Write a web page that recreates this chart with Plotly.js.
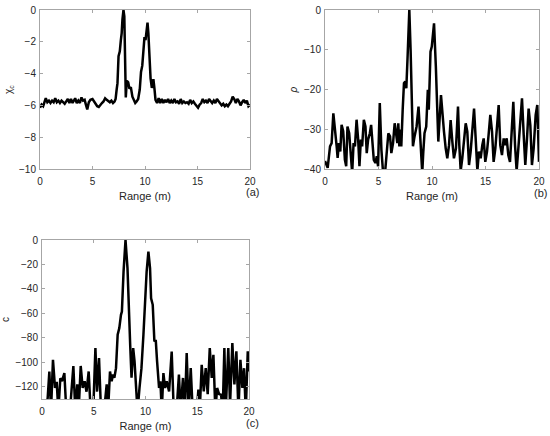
<!DOCTYPE html>
<html>
<head>
<meta charset="utf-8">
<script src="https://cdn.plot.ly/plotly-3.0.1.min.js"></script>
<style>html,body{margin:0;padding:0;background:#fff;}#chart{width:550px;height:436px;}</style>
</head>
<body>
<div id="chart"></div>
<script>
// Panel (a): chi_c vs range
var xA = [0,0.15,0.3,0.45,0.55,0.7,0.85,1.0,1.15,1.3,1.45,1.6,1.75,1.9,2.05,2.2,2.35,2.5,2.65,2.8,2.95,3.1,3.25,3.35,3.5,3.65,3.8,3.95,4.1,4.25,4.35,4.5,4.65,4.8,5.0,5.15,5.3,5.45,5.6,5.75,5.9,6.05,6.2,6.35,6.5,6.65,6.8,6.95,7.1,7.2,7.3,7.38,7.48,7.6,7.7,7.78,7.85,7.95,8.03,8.1,8.17,8.27,8.4,8.52,8.65,8.8,8.95,9.07,9.2,9.35,9.5,9.62,9.74,9.86,9.95,10.05,10.15,10.24,10.32,10.42,10.53,10.65,10.8,10.9,11.0,11.15,11.3,11.45,11.6,11.75,11.9,12.05,12.2,12.35,12.5,12.65,12.8,12.95,13.1,13.25,13.4,13.55,13.7,13.85,14.0,14.15,14.3,14.45,14.6,14.75,14.9,15.05,15.2,15.35,15.5,15.65,15.8,15.95,16.1,16.25,16.4,16.55,16.7,16.85,17.0,17.15,17.3,17.45,17.6,17.75,17.9,18.05,18.2,18.35,18.5,18.65,18.8,18.95,19.1,19.25,19.4,19.55,19.7,19.85,20.0];
var yA = [-6.15,-5.95,-6.05,-5.7,-5.55,-5.8,-5.7,-5.85,-5.7,-5.8,-5.55,-5.8,-5.7,-5.85,-5.7,-5.8,-5.9,-5.75,-5.6,-5.85,-5.6,-5.85,-5.7,-5.55,-5.85,-5.7,-5.85,-5.5,-5.7,-5.65,-5.9,-6.25,-5.8,-5.65,-5.6,-5.75,-5.9,-6.05,-6.1,-5.95,-5.85,-5.75,-5.55,-5.65,-5.75,-5.8,-5.7,-5.85,-5.75,-5.6,-5.0,-4.6,-2.9,-2.6,-1.9,-1.45,-0.6,0,-0.4,-2.5,-5.5,-4.45,-4.55,-4.95,-4.85,-5.45,-5.65,-5.85,-5.75,-5.6,-5.0,-3.9,-3.5,-2.5,-1.7,-1.9,-1.05,-0.8,-1.45,-2.9,-4.3,-4.9,-4.35,-4.95,-5.65,-5.85,-5.55,-5.85,-5.6,-5.85,-5.65,-5.8,-5.6,-5.85,-5.7,-5.85,-5.6,-5.8,-5.75,-5.9,-5.6,-5.85,-5.75,-5.85,-5.8,-5.9,-5.65,-5.85,-5.75,-5.9,-6.05,-6.15,-5.95,-5.85,-5.6,-5.8,-5.7,-5.85,-5.6,-5.75,-5.85,-5.7,-5.85,-5.6,-5.75,-5.85,-6.0,-5.9,-6.05,-5.95,-6.05,-5.9,-5.75,-5.45,-5.6,-5.85,-5.6,-5.75,-6.0,-5.8,-5.65,-5.85,-5.7,-6.05,-5.95];

// Panel (b): rho vs range
var xB = [0,0.25,0.47,0.62,0.78,0.93,1.09,1.18,1.3,1.43,1.55,1.7,1.86,1.98,2.1,2.26,2.42,2.54,2.67,2.8,2.95,3.1,3.22,3.35,3.47,3.63,3.78,3.9,4.03,4.19,4.31,4.43,4.56,4.71,4.84,4.96,5.12,5.27,5.43,5.58,5.74,5.92,6.08,6.2,6.36,6.51,6.64,6.76,6.85,6.95,7.04,7.13,7.26,7.38,7.5,7.6,7.72,7.88,8.0,8.12,8.22,8.37,8.56,8.74,8.87,8.99,9.09,9.18,9.3,9.46,9.61,9.7,9.77,9.86,9.98,10.19,10.36,10.48,10.59,10.84,10.99,11.12,11.28,11.43,11.59,11.74,11.9,12.05,12.24,12.43,12.55,12.68,12.83,12.99,13.15,13.3,13.46,13.61,13.77,13.93,14.08,14.24,14.39,14.55,14.7,14.83,14.98,15.14,15.29,15.45,15.61,15.76,15.92,16.07,16.23,16.38,16.54,16.7,16.82,16.98,17.13,17.29,17.44,17.6,17.76,17.91,18.07,18.22,18.41,18.57,18.72,18.88,19.03,19.19,19.34,19.5,19.69,19.84,20.0];
var yB = [-38,-39.7,-34.3,-33.5,-26,-29.3,-34.3,-37.2,-33.5,-35.6,-28.9,-30.5,-37.7,-39.3,-29.3,-31,-38,-41,-33.5,-34.3,-27.6,-32.6,-39.3,-32.6,-34.3,-27.6,-29.3,-36,-32.6,-31,-28.9,-33.5,-37.7,-38.5,-36.8,-39.3,-23.4,-35.1,-41,-42,-37.7,-31,-31.8,-36,-33.5,-28.5,-31,-33.5,-28.5,-34.3,-30.1,-34.3,-25.1,-18.4,-18,-19.7,-11.7,0,-10,-25.1,-34.3,-31.8,-29.3,-24.3,-29.3,-34.3,-41,-36,-31,-29.3,-20.1,-25.1,-17.6,-10.5,-9.2,-3.35,-14.2,-25.1,-33.1,-21.4,-27.3,-30.6,-34.8,-37.3,-34,-27.7,-33.1,-37.3,-34.8,-24.3,-34,-40.5,-37.3,-32.3,-28.5,-30.6,-39,-35.6,-30.6,-24.8,-32.3,-40.5,-35.6,-37.3,-34,-32.3,-38.2,-35.6,-31.4,-26.4,-30.6,-38.2,-34.8,-28.1,-23.9,-34,-36.5,-32.3,-34,-32.3,-36.5,-38.2,-30.6,-23.1,-34,-40.5,-34.8,-28.1,-22.2,-31.4,-39,-32.3,-24.8,-29,-39,-34.8,-26.4,-23.9,-38.2];

// Panel (c): c vs range
var xC = [0.4,0.55,0.71,0.87,1.06,1.26,1.42,1.58,1.77,1.93,2.16,2.35,2.7,3.03,3.22,3.41,3.54,3.74,3.93,4.12,4.3,4.51,4.7,4.95,5.16,5.32,5.51,5.7,6.0,6.25,6.38,6.57,6.73,6.86,6.99,7.15,7.31,7.47,7.63,7.72,7.88,8.07,8.26,8.39,8.52,8.65,8.81,8.94,9.1,9.23,9.42,9.61,9.8,9.95,10.11,10.28,10.44,10.54,10.7,10.86,10.99,11.12,11.31,11.44,11.57,11.73,11.89,12.05,12.28,12.53,12.73,13.0,13.23,13.39,13.62,13.8,13.98,14.17,14.37,14.56,14.95,15.11,15.24,15.43,15.63,15.82,16.01,16.21,16.4,16.56,16.75,16.92,17.11,17.3,17.46,17.62,17.75,18.0,18.17,18.39,18.59,18.78,18.98,19.17,19.36,19.52,19.69,19.88,20.0];
var yC = [-140,-129,-107.5,-140,-98,-121,-116,-140,-113,-115.5,-108.8,-140,-140,-103,-140,-118,-140,-103,-121,-115.5,-124,-107.5,-140,-140,-88.4,-124,-96.6,-140,-140,-118,-140,-107.5,-115.5,-110,-112.6,-104.8,-77.5,-72,-61.2,-58.5,-25.8,0,-23,-61,-85.7,-112.6,-88.4,-99,-121,-140,-121,-104.8,-77.5,-50.3,-25.8,-9.5,-23.1,-47.6,-53,-83,-81.6,-99.3,-121,-115.6,-140,-108.8,-121,-115.6,-123.8,-91.2,-140,-140,-110,-140,-112.8,-140,-92.5,-140,-104.8,-140,-140,-122.4,-140,-102,-123.8,-104.8,-126,-88.4,-112.8,-93.8,-140,-121,-126,-126.5,-140,-88.4,-140,-88.4,-135,-84.3,-118,-91,-140,-98,-121,-104.8,-140,-91,-107.5];

var xTicks = [0,5,10,15,20];
var yTicksA = [-10,-8,-6,-4,-2,0];
var yTicksB = [-40,-30,-20,-10,0];
var yTicksC = [-120,-100,-80,-60,-40,-20,0];

var txt = '#262626';
var axCol = '#a6a6a6';
var FONT = 'Liberation Sans, Arial, sans-serif';

function xax(domain, anchor) {
  return {
    domain: domain, anchor: anchor, range: [0, 20], tickvals: xTicks,
    ticks: 'inside', ticklen: 3, tickcolor: axCol, showline: true, linecolor: axCol, linewidth: 1,
    mirror: 'ticks', showgrid: false, zeroline: false, ticklabelstandoff: 3,
    tickfont: {family: FONT, size: 10, color: txt},
    title: {text: 'Range (m)', font: {family: FONT, size: 11, color: txt}, standoff: 6}
  };
}
function yax(domain, anchor, range, ticks, label) {
  return {
    domain: domain, anchor: anchor, range: range, tickvals: ticks,
    ticks: 'inside', ticklen: 3, tickcolor: axCol, showline: true, linecolor: axCol, linewidth: 1,
    mirror: 'ticks', showgrid: false, zeroline: false, ticklabelstandoff: 1,
    tickfont: {family: FONT, size: 10, color: txt},
    title: {text: label, font: {family: FONT, size: 10, color: txt}, standoff: 4}
  };
}

var lineStyle = {color: '#000', width: 2.5};
var data = [
  {x: xA, y: yA, type: 'scatter', mode: 'lines', line: lineStyle, xaxis: 'x', yaxis: 'y', cliponaxis: true},
  {x: xB, y: yB, type: 'scatter', mode: 'lines', line: lineStyle, xaxis: 'x2', yaxis: 'y2', cliponaxis: true},
  {x: xC, y: yC, type: 'scatter', mode: 'lines', line: lineStyle, xaxis: 'x3', yaxis: 'y3', cliponaxis: true}
];

var W = 550, H = 436;
function panelTag(t, px, py) {
  return {text: t, x: px/W, y: 1 - py/H, xref: 'paper', yref: 'paper', xanchor: 'center', yanchor: 'middle',
          showarrow: false, font: {family: FONT, size: 11, color: txt}};
}
var layout = {
  width: W, height: H, margin: {l: 0, r: 0, t: 0, b: 0}, showlegend: false,
  paper_bgcolor: '#fff', plot_bgcolor: '#fff',
  xaxis: xax([40/W, 250/W], 'y'),
  yaxis: yax([1 - 169/H, 1 - 10/H], 'x', [-10, 0], yTicksA, 'χ<sub>c</sub>'),
  xaxis2: xax([325/W, 539/W], 'y2'),
  yaxis2: yax([1 - 169/H, 1 - 10/H], 'x2', [-40, 0], yTicksB, '<i>ρ</i>'),
  xaxis3: xax([42/W, 249/W], 'y3'),
  yaxis3: yax([1 - 399/H, 1 - 240/H], 'x3', [-130, 0], yTicksC, 'c'),
  annotations: [
    panelTag('(a)', 252, 192),
    panelTag('(b)', 540, 193),
    panelTag('(c)', 252, 423)
  ]
};

Plotly.newPlot('chart', data, layout, {displayModeBar: false, staticPlot: true});
</script>
</body>
</html>
